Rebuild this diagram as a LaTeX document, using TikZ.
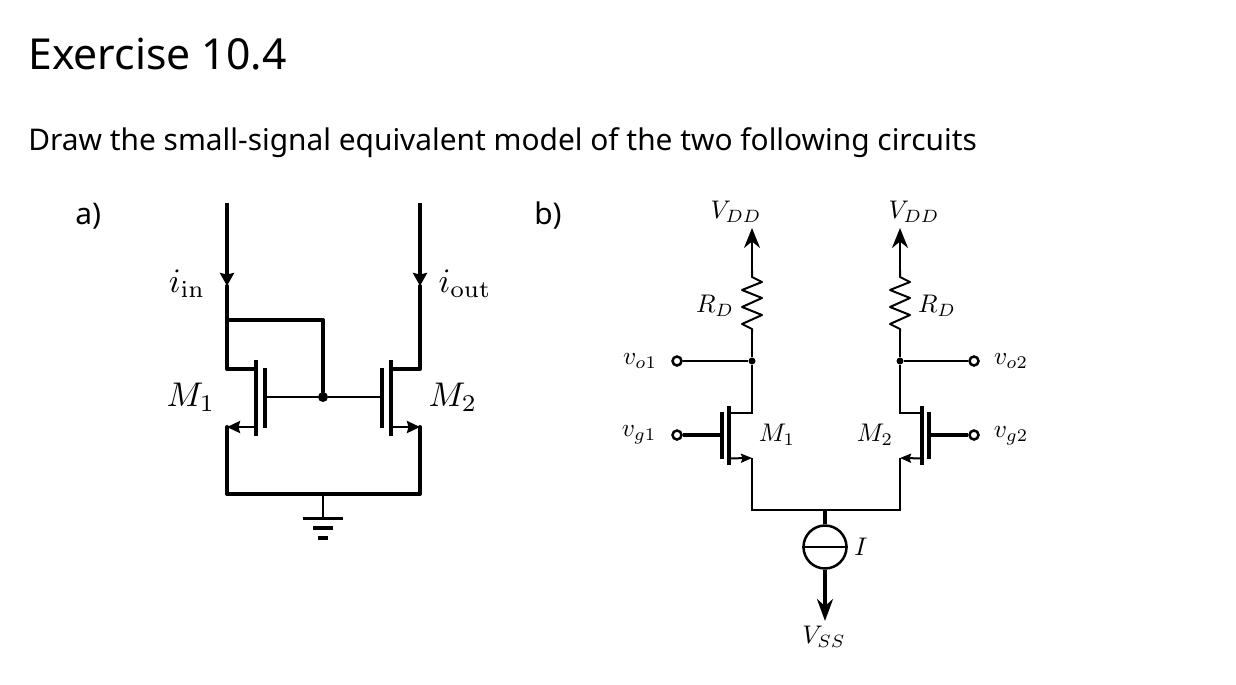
\documentclass[tikz,border=0pt]{standalone}
\usepackage{amsmath}
\usepackage[no-math]{fontspec}
\newfontfamily\uifont{Noto Sans}
\usetikzlibrary{arrows.meta}
\tikzset{
	rail/.style={line width=.08cm,line cap=round,line join=round},
	wire/.style={line width=.05cm},
	railtip/.style={rail,line cap=butt,-{Stealth[length=.26cm,width=.28cm,inset=.03cm]}},
	sourcetip/.style={line width=.05cm,-{Stealth[length=.26cm,width=.24cm,inset=.03cm]}},
	smalltip/.style={line width=.04cm,-{Stealth[length=.22cm,width=.18cm,inset=.03cm]}},
	vddtip/.style={line width=.05cm,-{Stealth[length=.4cm,width=.32cm]}},
	dot/.style={circle,fill=black,inner sep=0pt,minimum size=.2cm},
	smalldot/.style={circle,fill=black,inner sep=0pt,minimum size=.14cm},
	port/.style={circle,draw,fill=white,line width=.05cm,inner sep=0pt,minimum size=.18cm},
	isrc/.style={circle,draw,line width=.05cm,inner sep=0pt,minimum size=.86cm},
	biglabel/.style={inner sep=0pt,scale=1.95},
	smalllabel/.style={inner sep=0pt,scale=1.45},
	uitext/.style={inner sep=0pt,anchor=base west,font=\uifont\fontsize{17}{20}\selectfont},
}
\def\drawMos{
\coordinate (G) at (-9,0);
\coordinate (C1) at (0,-37);
\coordinate (C2) at (0,39);
\coordinate (P1) at (-9,-29);
\coordinate (P2) at (-9,31);
\coordinate (D) at (0,-28);
\coordinate (S) at (0,30);
\draw[line width=.065cm] (C1) -- (C2);
\draw[line width=.065cm] (P1) -- (P2);
}
\def\drawRes{
\coordinate (R1) at (0,0);
\coordinate (R2) at (0,62);
\draw[line width=.04cm,line join=round] (R1) -- (0,7) -- (10,12) -- (-10,20) -- (10,28) -- (-10,37) -- (10,45) -- (-10,54) -- (0,59) -- (R2);
}

\begin{document}
\begin{tikzpicture}[x=.02cm,y=-.02cm]
	\useasboundingbox (0,0) rectangle (1236,684);
	\node[uitext,font=\uifont\fontsize{24.3}{28}\selectfont] (title) at (28,69) {Exercise 10.4};
	\node[uitext] (task) at (28,150) {Draw the small-signal equivalent model of the two following circuits};
	\node[uitext] (parta) at (75,224) {a)};
	\node[uitext] (partb) at (534,224) {b)};
	% circuit a
	\begin{scope}[shift={(256,397)},xscale=-1,name prefix=aA]
	\drawMos
	\end{scope}
	\begin{scope}[shift={(391,397)},name prefix=aB]
	\drawMos
	\end{scope}
	\coordinate (aTopL) at (227,203);
	\coordinate (aTopR) at (420,203);
	\coordinate (aTipL) at (227,286);
	\coordinate (aTipR) at (420,286);
	\coordinate (aFb) at (227,320);
	\coordinate (aSrcL) at (227,427);
	\coordinate (aSrcR) at (420,427);
	\coordinate (aBotL) at (227,494);
	\coordinate (aBotR) at (420,494);
	\coordinate (aGnd) at (323,494);
	\node[dot] (aJ) at (323,397) {};
	\draw[railtip] (aTopL) -- (aTipL);
	\draw[railtip] (aTopR) -- (aTipR);
	\draw[rail] (aTipL) |- (aAD);
	\draw[rail] (aTipR) |- (aBD);
	\draw[rail] (aFb) -| (aJ);
	\draw[wire] (aAG) -- (aJ) -- (aBG);
	\draw[sourcetip] (aAS) -- (aSrcL);
	\draw[sourcetip] (aBS) -- (aSrcR);
	\draw[rail] (aSrcL) -- (aBotL) -- (aBotR) -- (aSrcR);
	\coordinate (aE1) at (323,518);
	\draw[wire] (aGnd) -- (aE1);
	\draw[line width=.06cm] (303,518) -- (343,518);
	\draw[line width=.08cm] (313,528) -- (333,528);
	\draw[line width=.07cm] (318,538) -- (328,538);
	\node[biglabel] (iin) at (187,284) {$i_{\mathrm{in}}$};
	\node[biglabel] (iout) at (465,284) {$i_{\mathrm{out}}$};
	\node[biglabel] (Ma) at (191,397) {$M_1$};
	\node[biglabel] (Mb) at (453,397) {$M_2$};
	% circuit b
	\begin{scope}[shift={(729,435)},yscale=.78,xscale=.78,name prefix=bA]
	\drawMos
	\end{scope}
	\begin{scope}[shift={(922,435)},yscale=.78,xscale=-.78,name prefix=bB]
	\drawMos
	\end{scope}
	\begin{scope}[shift={(752,270)},name prefix=bL]
	\drawRes
	\end{scope}
	\begin{scope}[shift={(900,270)},name prefix=bR]
	\drawRes
	\end{scope}
	\coordinate (bVddL) at (752,228);
	\coordinate (bVddR) at (900,228);
	\coordinate (bSrcL) at (752,458);
	\coordinate (bSrcR) at (900,458);
	\coordinate (bBotL) at (752,510);
	\coordinate (bBotR) at (900,510);
	\coordinate (bMid) at (825,510);
	\coordinate (bVss) at (825,621);
	\node[smalldot] (bJL) at (752,361) {};
	\node[smalldot] (bJR) at (900,361) {};
	\node[port] (po1) at (677,361) {};
	\node[port] (po2) at (974,361) {};
	\node[port] (pg1) at (677,435) {};
	\node[port] (pg2) at (974,435) {};
	\node[isrc] (I) at (825,547) {};
	\draw[vddtip] (bLR1) -- (bVddL);
	\draw[vddtip] (bRR1) -- (bVddR);
	\draw[wire] (bLR2) -- (bJL);
	\draw[wire] (bRR2) -- (bJR);
	\draw[wire] (bJL) |- (bAD);
	\draw[wire] (bJR) |- (bBD);
	\draw[wire] (po1) -- (bJL);
	\draw[wire] (po2) -- (bJR);
	\draw[line width=.07cm] (pg1) -- (bAG);
	\draw[line width=.07cm] (pg2) -- (bBG);
	\draw[smalltip] (bAS) -- (bSrcL);
	\draw[smalltip] (bBS) -- (bSrcR);
	\draw[wire] (bSrcL) -- (bBotL) -- (bBotR) -- (bSrcR);
	\draw[line width=.07cm] (bMid) -- (I.north);
	\draw[wire] (I.west) -- (I.east);
	\draw[line width=.07cm,-{Stealth[length=.44cm,width=.32cm]}] (I.south) -- (bVss);
	\node[smalllabel] (vddl) at (736,212) {$V_{DD}$};
	\node[smalllabel] (vddr) at (914,212) {$V_{DD}$};
	\node[smalllabel] (rdl) at (715,306) {$R_D$};
	\node[smalllabel] (rdr) at (937,306) {$R_D$};
	\node[smalllabel] (vo1) at (640,361) {$v_{o1}$};
	\node[smalllabel] (vg1) at (639,435) {$v_{g1}$};
	\node[smalllabel] (vo2) at (1011,361) {$v_{o2}$};
	\node[smalllabel] (vg2) at (1011,436) {$v_{g2}$};
	\node[smalllabel] (mbl) at (777,435) {$M_1$};
	\node[smalllabel] (mbr) at (875,435) {$M_2$};
	\node[smalllabel] (ilabel) at (861,547) {$I$};
	\node[smalllabel] (vss) at (824,637) {$V_{SS}$};
\end{tikzpicture}
\end{document}
